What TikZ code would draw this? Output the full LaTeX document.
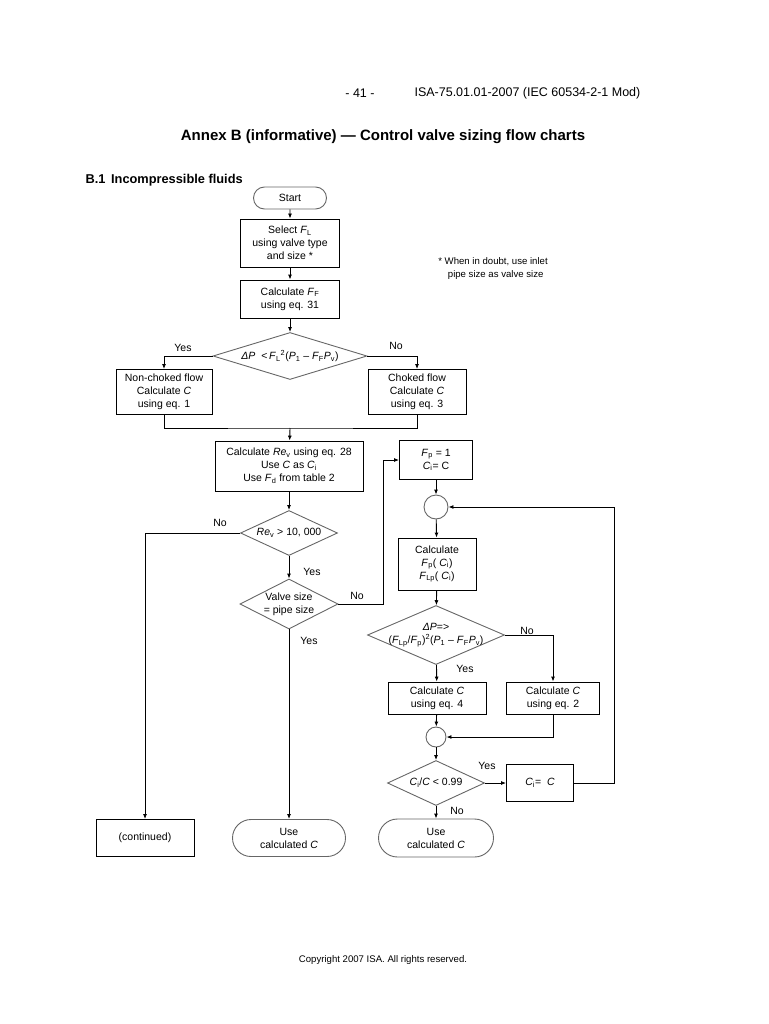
\documentclass[tikz,border=0pt]{standalone}
\usepackage{fontspec}
\setmainfont{Liberation Sans}
\usepackage{tikz}
\usetikzlibrary{shapes, arrows.meta, positioning,
                shapes.geometric, shapes.misc
                }

% italic symbol with upright subscript
\newcommand{\symb}[2]{\textit{#1}\textsubscript{#2}}

\begin{document}
\begin{tikzpicture}[x=1pt, y=-1pt, >={Latex[length=5pt,width=4pt]},
font=\fontsize{10.5}{13}\selectfont,
every box/.style={
rectangle,
draw,
line width=0.9pt,
align=center,
inner sep=1pt
},
decision/.style={
diamond,
draw=black!60,
line width=0.9pt,
align=center,
aspect=2.5,
inner sep=-12pt
},
terminal/.style={
rounded rectangle,
draw=black!60,
line width=0.9pt,
align=center,
inner sep=1pt
},
junction/.style={
circle,
draw=black!60,
line width=0.9pt,
inner sep=0pt
},
label text/.style={inner sep=1pt},
link/.style={line width=0.9pt}
]

\useasboundingbox (0,0) rectangle (768,1024);

% page texts
\node[] (page no) at (360,93) {\fontsize{12.5}{14}\selectfont - 41 -};
\node[anchor=west] (std) at (411,93) {\fontsize{12.5}{14}\selectfont ISA-75.01.01-2007 (IEC 60534-2-1 Mod)};
\node[] (title) at (383,137) {\fontsize{15}{18}\selectfont\bfseries Annex B (informative) --- Control valve sizing flow charts};
\node[anchor=west] (section) at (82,180) {\fontsize{12.8}{15}\selectfont\bfseries B.1\, Incompressible fluids};
\node[align=center] (note) at (493,269) {\fontsize{9.6}{12}\selectfont * When in doubt, use inlet\\ \fontsize{9.6}{12}\selectfont\ \ pipe size as valve size};
\node[] (copyright) at (383,960) {\fontsize{9.6}{11}\selectfont Copyright 2007 ISA. All rights reserved.};

% main column
\node[terminal, minimum width=75pt, minimum height=22pt] (start) at (290,198) {Start};
\node[every box, minimum width=99pt, minimum height=48pt] (sel) at (290,243) {Select \symb{F}{L}\\ using valve type\\ and size *};
\node[every box, minimum width=99pt, minimum height=38pt] (ff) at (290,299) {Calculate \symb{F}{F}\\ using eq. 31};
\node[decision, minimum width=154pt, minimum height=47pt] (d1) at (290,356) {\textit{ΔP} \ <\,\symb{F}{L}\textsuperscript{2}(\symb{P}{1} -- \symb{F}{F}\symb{P}{v})};
\node[every box, minimum width=96pt, minimum height=45pt] (nonch) at (164,392) {Non-choked flow\\ Calculate \textit{C}\\ using eq. 1};
\node[every box, minimum width=98pt, minimum height=45pt] (choked) at (417,392) {Choked flow\\ Calculate \textit{C}\\ using eq. 3};
\coordinate (join) at (290,428);
\node[every box, minimum width=148pt, minimum height=50pt] (rebox) at (289,466) {Calculate \symb{Re}{v} using eq. 28\\ Use \textit{C} as \symb{C}{i}\\ Use \symb{F}{d} from table 2};
\node[decision, minimum width=97pt, minimum height=45pt] (d2) at (289,533) {\symb{Re}{v} > 10, 000};
\node[decision, minimum width=98pt, minimum height=50pt] (d3) at (289,604) {Valve size\\ = pipe size};
\node[every box, minimum width=98pt, minimum height=37pt] (cont) at (145,838) {(continued)};
\node[terminal, minimum width=115pt, minimum height=37pt] (use1) at (289,838) {Use\\ calculated \textit{C}};

% iteration column
\node[every box, minimum width=73pt, minimum height=39pt] (fp) at (436,460) {\symb{F}{p} = 1\\ \symb{C}{i}= C};
\node[junction, minimum size=24pt] (c1) at (436,507) {};
\node[every box, minimum width=78pt, minimum height=52pt] (calcfp) at (437,564) {Calculate\\ \symb{F}{p}( \symb{C}{i})\\ \symb{F}{Lp}( \symb{C}{i})};
\node[decision, minimum width=137pt, minimum height=59pt] (d4) at (436,635) {\textit{ΔP}=>\\ (\symb{F}{Lp}/\symb{F}{p})\textsuperscript{2}(\symb{P}{1} -- \symb{F}{F}\symb{P}{v})};
\node[every box, minimum width=98pt, minimum height=32pt] (eq4) at (437,698) {Calculate \textit{C}\\ using eq. 4};
\node[every box, minimum width=93pt, minimum height=32pt] (eq2) at (553,698) {Calculate \textit{C}\\ using eq. 2};
\node[junction, minimum size=20pt] (c2) at (436,737) {};
\node[decision, minimum width=97pt, minimum height=45pt] (d5) at (436,783) {\symb{C}{i}/\textit{C} < 0.99};
\node[every box, minimum width=67pt, minimum height=37pt] (cibox) at (540,783) {\symb{C}{i}= \ \textit{C}};
\node[terminal, minimum width=117pt, minimum height=38pt] (use2) at (436,838) {Use\\ calculated \textit{C}};

% branch labels
\node[label text] (yes1) at (183,348) {Yes};
\node[label text] (no1) at (396,346) {No};
\node[label text] (no2) at (220,523) {No};
\node[label text] (yes2) at (312,572) {Yes};
\node[label text] (no3) at (357,596) {No};
\node[label text] (yes3) at (309,641) {Yes};
\node[label text] (no4) at (527,631) {No};
\node[label text] (yes4) at (465,669) {Yes};
\node[label text] (yes5) at (487,766) {Yes};
\node[label text] (no5) at (457,811) {No};

\draw[link,->] (start) -- (sel);
\draw[link,->] (sel) -- (ff);
\draw[link,->] (ff) -- (d1);

\draw[link,->] (d1.west) -| (nonch);
\draw[link,->] (d1.east) -| (choked);
\draw[link] (nonch.south) |- (join) -| (choked.south);
\draw[link,->] (join) -- (rebox);

\draw[link,->] (rebox) -- (d2);
\draw[link,->] (d2.west) -| (cont);
\draw[link,->] (d2) -- (d3);
\draw[link,->] (d3) -- (use1);
\draw[link,->] (d3.east) -- ++(45,0) |- (fp.west);

\draw[link,->] (fp) -- (c1);
\draw[link,->] (c1) -- (calcfp);
\draw[link,->] (calcfp) -- (d4);
\draw[link,->] (d4) -- (eq4);
\draw[link,->] (d4.east) -| (eq2);
\draw[link,->] (eq4) -- (c2);
\draw[link,->] (eq2.south) |- (c2.east);
\draw[link,->] (c2) -- (d5);
\draw[link,->] (d5) -- (cibox);
\draw[link,->] (d5) -- (use2);
\draw[link,->] (cibox.east) -- ++(40,0) |- (c1.east);

\end{tikzpicture}
\end{document}
